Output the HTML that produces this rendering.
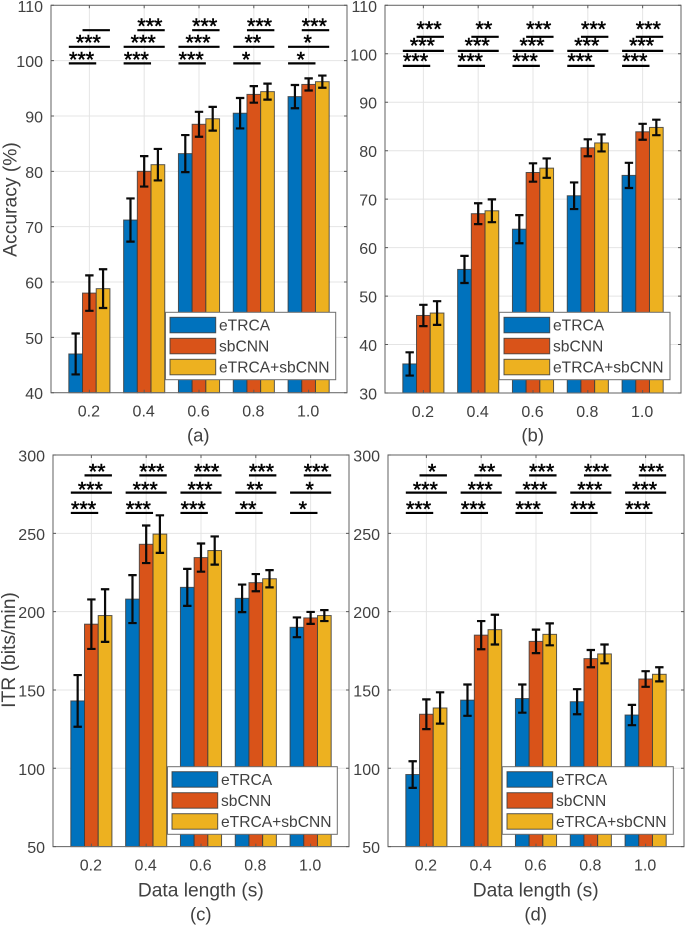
<!DOCTYPE html>
<html lang="en">
<head>
<meta charset="utf-8">
<title>Accuracy and ITR by data length</title>
<style>
html,body{margin:0;padding:0;background:#fff;width:685px;height:925px;overflow:hidden}
svg{display:block;filter:blur(0.3px)}
text{font-family:"Liberation Sans",Arial,sans-serif;fill:#404040}
</style>
</head>
<body>
<svg id="figure" xmlns="http://www.w3.org/2000/svg" width="685" height="925" viewBox="0 0 685 925"></svg>
<script>
const categories = ['0.2','0.4','0.6','0.8','1.0'];
const seriesNames = ['eTRCA','sbCNN','eTRCA+sbCNN'];

const accTicksA = [40,50,60,70,80,90,100,110];
const etrcaA = [47,71.2,83.2,90.5,93.5];
const sbcnnA = [58,80,88.5,93.9,95.7];
const comboA = [58.8,81.2,89.5,94.4,96.2];
const etrcaErrA = [3.7,3.9,3.35,2.75,2.1];
const sbcnnErrA = [3.2,2.75,2.25,1.5,1.1];
const comboErrA = [3.5,2.85,2.15,1.45,1.1];
const sigLowA = ['***','***','***','*','*'];
const sigMidA = ['***','***','***','**','*'];
const sigTopA = ['','***','***','***','***'];
const sigLevelsA = [99.5,102.5,105.5];

const accTicksB = [30,40,50,60,70,80,90,100,110];
const etrcaB = [36,55.5,63.8,70.7,74.9];
const sbcnnB = [46,67,75.5,80.6,83.9];
const comboB = [46.5,67.6,76.4,81.6,84.8];
const etrcaErrB = [2.4,2.8,2.9,2.75,2.6];
const sbcnnErrB = [2.2,2.15,1.9,1.75,1.65];
const comboErrB = [2.45,2.35,2,1.75,1.6];
const sigLowB = ['***','***','***','***','***'];
const sigMidB = ['***','***','***','***','***'];
const sigTopB = ['***','**','***','***','***'];
const sigLevelsB = [97.5,100.6,103.5];

const itrTicksC = [50,100,150,200,250,300];
const etrcaC = [143,208,215.5,208.5,190];
const sbcnnC = [192,243,234.5,218.5,196];
const comboC = [197.5,249.5,239,221,197.5];
const etrcaErrC = [16.5,15.3,11.8,8.8,6.3];
const sbcnnErrC = [15.8,12,9,5.5,3.8];
const comboErrC = [16.8,12,9,5.5,3.5];
const sigLowC = ['***','***','***','**','*'];
const sigMidC = ['***','***','***','**','*'];
const sigTopC = ['**','***','***','***','***'];
const sigLevelsC = [263,276,287];

const itrTicksD = [50,100,150,200,250,300];
const etrcaD = [96,143.5,144.5,142.5,134];
const sbcnnD = [134.5,185,181,170,157];
const comboD = [138.5,188.5,185.5,173,160];
const etrcaErrD = [8.5,10,9,8,6.5];
const sbcnnErrD = [9.5,9,7.5,5.5,5];
const comboErrD = [10,9.5,7,6,4.5];
const sigLowD = ['***','***','***','***','***'];
const sigMidD = ['***','***','***','***','***'];
const sigTopD = ['*','**','***','***','***'];
const sigLevelsD = [263,276,287];

const colors = ['#0072BD','#D95319','#EDB120'];
const NS = 'http://www.w3.org/2000/svg';
const root = document.getElementById('figure');

function mk(tag, attrs, parent, txt){
  const el = document.createElementNS(NS, tag);
  for (const k in attrs) el.setAttribute(k, attrs[k]);
  if (txt !== undefined) el.textContent = txt;
  parent.appendChild(el);
  return el;
}

const panels = [
 {id:'a',l:51,r:347,t:5.3,b:392.7,min:40,max:110,ticks:accTicksA,vals:[etrcaA,sbcnnA,comboA],errs:[etrcaErrA,sbcnnErrA,comboErrA],
  sig:[sigLowA,sigMidA,sigTopA],lev:sigLevelsA,starUp:[5.3,5.7,5.5],
  leg:{l:165.5,r:335.7,t:312.3,b:379.7,sw:170},ylabel:'Accuracy (%)',ylx:16.5,yly:199.5,xlabel:null,cap:'(a)',capX:198.3,capY:441.5},
 {id:'b',l:385,r:681,t:5.3,b:393,min:30,max:110,ticks:accTicksB,vals:[etrcaB,sbcnnB,comboB],errs:[etrcaErrB,sbcnnErrB,comboErrB],
  sig:[sigLowB,sigMidB,sigTopB],lev:sigLevelsB,starUp:[6.5,6.7,9.4],
  leg:{l:499.3,r:670,t:312.3,b:379.7,sw:504},ylabel:null,xlabel:null,cap:'(b)',capX:532.7,capY:441.5},
 {id:'c',l:53,r:349,t:455,b:846.6,min:50,max:300,ticks:itrTicksC,vals:[etrcaC,sbcnnC,comboC],errs:[etrcaErrC,sbcnnErrC,comboErrC],
  sig:[sigLowC,sigMidC,sigTopC],lev:sigLevelsC,starUp:[5.4,4.4,5.3],
  leg:{l:167.5,r:337.3,t:766.7,b:834.3,sw:172},ylabel:'ITR (bits/min)',ylx:15,yly:650,xlabel:'Data length (s)',xlX:200.8,cap:'(c)',capX:200.8,capY:920.5},
 {id:'d',l:388,r:684,t:455,b:846.6,min:50,max:300,ticks:itrTicksD,vals:[etrcaD,sbcnnD,comboD],errs:[etrcaErrD,sbcnnErrD,comboErrD],
  sig:[sigLowD,sigMidD,sigTopD],lev:sigLevelsD,starUp:[5.4,4.4,5.3],
  leg:{l:502.3,r:673.3,t:766.7,b:834.3,sw:507},ylabel:null,xlabel:'Data length (s)',xlX:535.7,cap:'(d)',capX:535.7,capY:920.5}
];

panels.forEach(function(p){
  const g = mk('g', {}, root);
  
  

  const unit = (p.r - p.l) / 5.4;
  const xScale = function(i){ return p.l + (i + 0.7) * unit; };
  const yScale = function(v){ return p.b - (v - p.min) / (p.max - p.min) * (p.b - p.t); };
  const barW = unit * 0.25;

  // grid
  p.ticks.forEach(function(v){
    if (v === p.min || v === p.max) return;
    const gl = mk('line', {x1:p.l,x2:p.r,y1:yScale(v),y2:yScale(v),stroke:'#e4e4e4','stroke-width':1}, g);
    
    
  });
  categories.forEach(function(c,i){
    const gl = mk('line', {x1:xScale(i),x2:xScale(i),y1:p.t,y2:p.b,stroke:'#e4e4e4','stroke-width':1}, g);
    
    
  });

  // bars
  p.vals.forEach(function(series,s){
    series.forEach(function(v,i){
      const x0 = xScale(i) + (s - 1.5) * barW;
      const bar = mk('rect', {x:x0,y:yScale(v),width:barW,height:p.b - yScale(v),fill:colors[s],stroke:'#3d3d3d','stroke-opacity':0.85,'stroke-width':1}, g);
      
      
    });
  });

  // box and ticks
  const box = mk('rect', {x:p.l,y:p.t,width:p.r-p.l,height:p.b-p.t,fill:'none',stroke:'#6e6e6e','stroke-width':1.1}, g);
  
  
  p.ticks.forEach(function(v){
    const y = yScale(v);
    const tk = mk('path', {d:'M'+p.l+' '+y+'h3M'+p.r+' '+y+'h-3',stroke:'#5a5a5a','stroke-width':1,fill:'none'}, g);
    
    
    const lb = mk('text', {x:p.l-8,y:y+6.5,'text-anchor':'end','font-size':16}, g, String(v));
    
    
  });
  categories.forEach(function(c,i){
    const x = xScale(i);
    const tk = mk('path', {d:'M'+x+' '+p.b+'v-3M'+x+' '+p.t+'v3',stroke:'#5a5a5a','stroke-width':1,fill:'none'}, g);
    
    
    const lb = mk('text', {x:x-0.5,y:p.b+23.8,'text-anchor':'middle','font-size':16}, g, c);
    
    
  });

  // error bars
  p.vals.forEach(function(series,s){
    series.forEach(function(v,i){
      const cx = xScale(i) + (s - 1) * barW;
      const hi = yScale(v + p.errs[s][i]);
      const lo = yScale(v - p.errs[s][i]);
      const eb = mk('path', {d:'M'+cx+' '+hi+'V'+lo+'M'+(cx-4.2)+' '+hi+'h8.4M'+(cx-4.2)+' '+lo+'h8.4',stroke:'#0a0a0a','stroke-width':2.2,fill:'none'}, g);
      
      
    });
  });

  // significance brackets and stars
  const spans = [[-1.5,0.5],[-1.5,1.5],[-0.5,1.5]];
  const starShift = [-7.8,-1,5.7];
  p.sig.forEach(function(level,k){
    level.forEach(function(txt,i){
      const c = xScale(i);
      const y = yScale(p.lev[k]);
      const ln = mk('line', {x1:c+spans[k][0]*barW,x2:c+spans[k][1]*barW,y1:y,y2:y,stroke:'#000','stroke-width':2.2}, g);
      
      
      if (txt) {
        const st = mk('text', {x:c+starShift[k],y:y-p.starUp[k]+8.5,'text-anchor':'middle','font-size':21.5,stroke:'#000','stroke-width':0.5,style:'fill:#000'}, g, txt);
        
        
      }
    });
  });

  // legend
  const L = p.leg;
  const lg = mk('g', {}, g);
  
  
  const frame = mk('rect', {x:L.l,y:L.t,width:L.r-L.l,height:L.b-L.t,fill:'#fff',stroke:'#6e6e6e','stroke-width':1}, lg);
  
  
  seriesNames.forEach(function(n,s){
    const top = L.t + 5 + s * 21;
    const sw = mk('rect', {x:L.sw,y:top,width:45.7,height:15.5,fill:colors[s],stroke:'#3d3d3d','stroke-opacity':0.85,'stroke-width':1}, lg);
    
    
    const tx = mk('text', {x:L.sw+49,y:top+13.4,'font-size':15.6}, lg, n);
    
    
  });

  // titles
  if (p.ylabel) {
    const yl = mk('text', {transform:'translate('+p.ylx+' '+p.yly+') rotate(-90)','text-anchor':'middle','font-size':19.3}, g, p.ylabel);
    
    
  }
  if (p.xlabel) {
    const xl = mk('text', {x:p.xlX,y:896.7,'text-anchor':'middle','font-size':19.2}, g, p.xlabel);
    
    
  }
  const cp = mk('text', {x:p.capX,y:p.capY,'text-anchor':'middle','font-size':18.5}, g, p.cap);
  
  
});
</script>
</body>
</html>
